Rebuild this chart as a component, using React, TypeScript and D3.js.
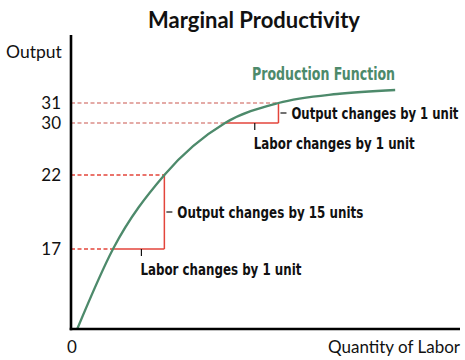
import { useLayoutEffect, useRef, useState } from 'react';
import * as d3 from 'd3';

// Production function (labor units, output units)
const laborValues = [0.12, 0.81, 1.8, 2.97, 4.0, 5.13, 6.25];
const outputValues = [0, 17, 22, 30, 31, 31.45, 31.65];

// Output tick labels on the left
const outputTicks = [17, 22, 30, 31];

// The two "one more unit of labor" steps
const stepLaborFrom = [0.8, 2.97];
const stepLaborTo = [1.8, 4.0];
const stepOutputFrom = [17, 30];
const stepOutputTo = [22, 31];
const stepOutputLabels = ['Output changes by 15 units', 'Output changes by 1 unit'];
const stepLaborLabels = ['Labor changes by 1 unit', 'Labor changes by 1 unit'];

const W = 465;
const H = 360;
const GREEN = '#4d8a6b';
const RED = '#e3453b';
const condensed = "'DejaVu Sans Condensed', 'Open Sans', sans-serif";
const plain = 'Lato, sans-serif';

// bold text squeezed horizontally to a target width (the original uses a condensed face)
function NarrowText({ x, y, width, fontSize, fill, children }: {
  x: number; y: number; width: number; fontSize: number; fill: string; children: string;
}) {
  const ref = useRef<SVGTextElement | null>(null);
  const [sx, setSx] = useState(0.7);
  useLayoutEffect(() => {
    const el = ref.current;
    if (!el) return;
    // getComputedTextLength ignores the transform, so this is the unscaled width
    const natural = el.getComputedTextLength();
    if (natural > 0) setSx(width / natural);
  }, [width, children]);
  return (
    <text
      ref={ref}
      transform={`translate(${x},${y}) scale(${sx},1)`}
      fontFamily={condensed}
      fontWeight={700}
      fontSize={fontSize}
      fill={fill}
    >
      {children}
    </text>
  );
}

export default function App() {
  const x = d3.scaleLinear().domain([0, 7.5]).range([71, 460]);
  // schematic axis: tick spacing is not uniform in the original
  const y = d3.scaleLinear().domain([0, 17, 22, 30, 31, 34.4]).range([329, 249, 175, 123, 103, 35]);

  const pts = laborValues.map((l, i) => [x(l), y(outputValues[i])] as [number, number]);
  const line = d3.line().curve(d3.curveMonotoneX);

  const outLabelWidths = [186, 167];
  const laborLabelWidths = [161, 161];
  const dashColors = [RED, '#c9574f'];
  const dashWidths = [1.3, 1.1];

  return (
    <svg width={W} height={H} style={{ position: 'absolute', left: 0, top: 0, background: '#fff' }}>
      <text x={254} y={28} textAnchor="middle" fontFamily={plain} fontWeight={700} fontSize={22} fill="#111">
        Marginal Productivity
      </text>

      <text x={6} y={58} fontFamily={plain} fontSize={17.5} fill="#111">Output</text>

      {outputTicks.map((v) => (
        <text key={v} x={61} y={y(v) + 6} textAnchor="end" fontFamily={plain} fontSize={17} fill="#111">
          {v}
        </text>
      ))}
      <text x={72} y={353} textAnchor="middle" fontFamily={plain} fontSize={17} fill="#111">0</text>
      <text x={460} y={353} textAnchor="end" fontFamily={plain} fontSize={17} fill="#111">Quantity of Labor</text>

      {/* guide lines and steps */}
      {stepLaborFrom.map((lf, i) => {
        const lt = stepLaborTo[i];
        const y0 = y(stepOutputFrom[i]);
        const y1 = y(stepOutputTo[i]);
        const xs = x(lf);
        const xe = x(lt);
        const tickX = (xs + xe) / 2 + 3;
        const midY = (y0 + y1) / 2;
        return (
          <g key={i}>
            <line x1={x(0)} x2={xe} y1={y1} y2={y1} stroke={dashColors[i]} strokeWidth={dashWidths[i]} strokeDasharray="4 2.5" />
            <line x1={x(0)} x2={xs} y1={y0} y2={y0} stroke={dashColors[i]} strokeWidth={dashWidths[i]} strokeDasharray="4 2.5" />
            <line x1={xs} x2={xe} y1={y0} y2={y0} stroke={RED} strokeWidth={1.5} />
            <line x1={xe} x2={xe} y1={y0} y2={y1} stroke={RED} strokeWidth={1.5} />
            <line x1={xe + 2} x2={xe + 8} y1={midY} y2={midY} stroke="#111" strokeWidth={1.2} />
            <line x1={tickX} x2={tickX} y1={y0} y2={y0 + 7} stroke="#111" strokeWidth={1.2} />
            <NarrowText x={xe + 13} y={midY + 5.5} width={outLabelWidths[i]} fontSize={16.5} fill="#111">
              {stepOutputLabels[i]}
            </NarrowText>
            <NarrowText x={tickX - 1} y={y0 + 25.5} width={laborLabelWidths[i]} fontSize={16.5} fill="#111">
              {stepLaborLabels[i]}
            </NarrowText>
          </g>
        );
      })}

      {/* production function */}
      <path d={line(pts) ?? undefined} fill="none" stroke={GREEN} strokeWidth={2.3} />
      <NarrowText x={252} y={80} width={143} fontSize={17} fill={GREEN}>
        Production Function
      </NarrowText>

      {/* axes */}
      <line x1={x(0)} x2={x(0)} y1={y(34.4)} y2={y(0) + 1.3} stroke="#000" strokeWidth={2.6} />
      <line x1={x(0) - 1.3} x2={x(7.5)} y1={y(0)} y2={y(0)} stroke="#000" strokeWidth={2.6} />
    </svg>
  );
}
